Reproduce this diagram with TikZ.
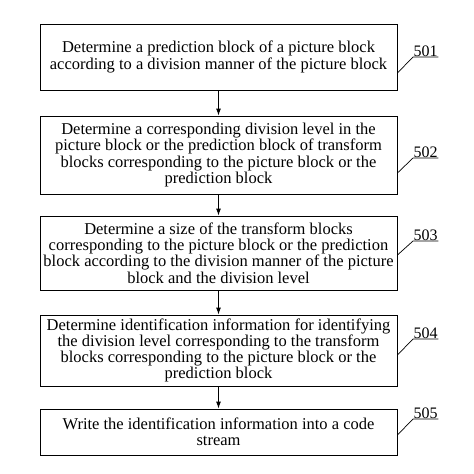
\documentclass[tikz,border=0pt]{standalone}
\usepackage{fontspec}
\setmainfont{Liberation Serif}
\usepackage{tikz}
\usetikzlibrary{positioning, arrows.meta}

\begin{document}
\begin{tikzpicture}[
  x=1pt, y=1pt,
  blk/.style={draw=black, line width=0.9pt, inner sep=2pt, align=center,
              font=\fontsize{16.5}{16.2}\selectfont, minimum width=357pt},
  flow/.style={-{Latex[length=7pt, width=5pt]}, line width=0.9pt},
  tag/.style={font=\fontsize{16}{16}\selectfont, inner sep=0.5pt, anchor=south west},
  lead/.style={line width=0.7pt}]

  \useasboundingbox (0,0) rectangle (474,-474);

  \node[blk, minimum height=66pt] (b1) at (218.5, -57)
    {Determine a prediction block of a picture block\\
     according to a division manner of the picture block};
  \node[blk, minimum height=78pt] (b2) at (218.5, -155)
    {Determine a corresponding division level in the\\
     picture block or the prediction block of transform\\
     blocks corresponding to the picture block or the\\
     prediction block};
  \node[blk, minimum height=74pt] (b3) at (218.5, -253)
    {Determine a size of the transform blocks\\
     corresponding to the picture block or the prediction\\
     block according to the division manner of the picture\\
     block and the division level};
  \node[blk, minimum height=71pt] (b4) at (218.5, -350.5)
    {Determine identification information for identifying\\
     the division level corresponding to the transform\\
     blocks corresponding to the picture block or the\\
     prediction block};
  \node[blk, minimum height=46pt] (b5) at (218.5, -432)
    {Write the identification information into a code\\
     stream};

  \draw[flow] (b1) -- (b2);
  \draw[flow] (b2) -- (b3);
  \draw[flow] (b3) -- (b4);
  \draw[flow] (b4) -- (b5);

  % step numbers with leader lines
  \node[tag] (t1) at (413, -57) {501};
  \node[tag] (t2) at (413, -158) {502};
  \node[tag] (t3) at (413, -241) {503};
  \node[tag] (t4) at (413, -339) {504};
  \node[tag] (t5) at (413, -419) {505};

  \draw[lead] (b1.east |- 0,-73) -- (t1.south west) -- (t1.south east);
  \draw[lead] (b2.east |- 0,-173) -- (t2.south west) -- (t2.south east);
  \draw[lead] (b3.east |- 0,-255) -- (t3.south west) -- (t3.south east);
  \draw[lead] (b4.east |- 0,-355) -- (t4.south west) -- (t4.south east);
  \draw[lead] (b5.east |- 0,-435) -- (t5.south west) -- (t5.south east);
\end{tikzpicture}
\end{document}
